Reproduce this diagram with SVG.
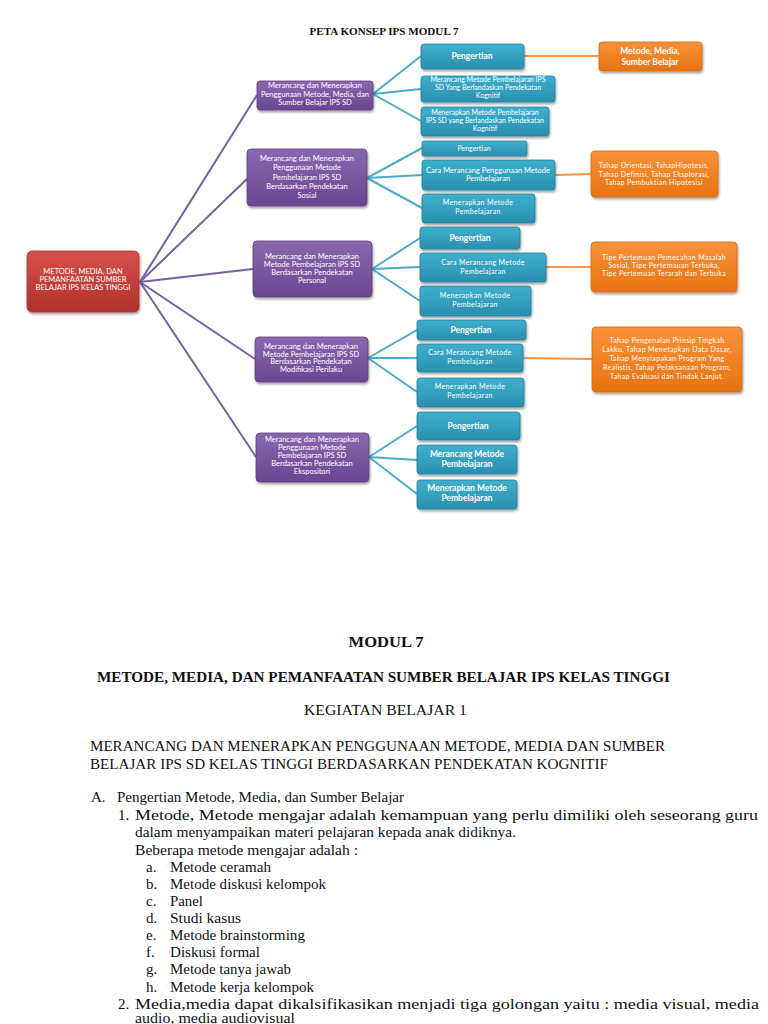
<svg xmlns="http://www.w3.org/2000/svg" width="768" height="1024" viewBox="0 0 768 1024">
<defs>
<linearGradient id="gRed" x1="0" y1="0" x2="0" y2="1"><stop offset="0" stop-color="#d6504b"/><stop offset="1" stop-color="#b0302c"/></linearGradient>
<linearGradient id="gPur" x1="0" y1="0" x2="0" y2="1"><stop offset="0" stop-color="#8a68b0"/><stop offset="1" stop-color="#6a4690"/></linearGradient>
<linearGradient id="gTeal" x1="0" y1="0" x2="0" y2="1"><stop offset="0" stop-color="#3fb0cf"/><stop offset="1" stop-color="#2a8fae"/></linearGradient>
<linearGradient id="gOra" x1="0" y1="0" x2="0" y2="1"><stop offset="0" stop-color="#f9923a"/><stop offset="1" stop-color="#e8730f"/></linearGradient>
<filter id="sh" x="-10%" y="-20%" width="130%" height="150%"><feDropShadow dx="1" dy="2" stdDeviation="1.2" flood-color="#000" flood-opacity="0.35"/></filter>
</defs>
<style>
.red{fill:url(#gRed);stroke:#a8322e;stroke-width:0.8;filter:url(#sh)}
.pur{fill:url(#gPur);stroke:#5e3f82;stroke-width:0.8;filter:url(#sh)}
.teal{fill:url(#gTeal);stroke:#257f9a;stroke-width:0.8;filter:url(#sh)}
.ora{fill:url(#gOra);stroke:#d4680f;stroke-width:0.8;filter:url(#sh)}
.nt{font-family:Lato,"Noto Sans",sans-serif;fill:#fff;text-anchor:middle;font-size:7.5px}
.ns{font-family:Lato,"Noto Sans",sans-serif;fill:#fff;text-anchor:middle;font-size:7px}
.no{font-family:Lato,"Noto Sans",sans-serif;fill:#fff;text-anchor:middle;font-size:7px;letter-spacing:0.35px}
.nb{font-family:Lato,"Noto Sans",sans-serif;fill:#fff;text-anchor:middle;font-size:8.5px;font-weight:bold}
.lp{stroke:#7560a6;stroke-width:2;fill:none}
.lt{stroke:#4aacc6;stroke-width:2;fill:none}
.lo{stroke:#f79646;stroke-width:2;fill:none}
.sf{font-family:"Liberation Serif","Times New Roman",serif;fill:#111;font-size:15px}
.sb{font-family:"Liberation Serif","Times New Roman",serif;fill:#111;font-weight:bold}
</style>
<rect width="768" height="1024" fill="#fff"/>
<text class="sb" x="384" y="35" font-size="11" text-anchor="middle" textLength="149" lengthAdjust="spacingAndGlyphs">PETA KONSEP IPS MODUL 7</text>

<g id="connectors">
<line class="lp" x1="140" y1="282" x2="257" y2="95"/>
<line class="lp" x1="140" y1="282" x2="248" y2="178"/>
<line class="lp" x1="140" y1="282" x2="253" y2="269"/>
<line class="lp" x1="140" y1="282" x2="255" y2="359"/>
<line class="lp" x1="140" y1="282" x2="256" y2="457"/>
<line class="lt" x1="373" y1="94" x2="421" y2="56"/>
<line class="lt" x1="373" y1="94" x2="421" y2="89"/>
<line class="lt" x1="373" y1="94" x2="421" y2="121"/>
<line class="lt" x1="367" y1="178" x2="422" y2="148"/>
<line class="lt" x1="367" y1="178" x2="422" y2="175"/>
<line class="lt" x1="367" y1="178" x2="422" y2="208"/>
<line class="lt" x1="372" y1="269" x2="420" y2="238"/>
<line class="lt" x1="372" y1="269" x2="420" y2="267"/>
<line class="lt" x1="372" y1="269" x2="420" y2="301"/>
<line class="lt" x1="368" y1="358" x2="417" y2="330"/>
<line class="lt" x1="368" y1="358" x2="417" y2="358"/>
<line class="lt" x1="368" y1="358" x2="417" y2="392"/>
<line class="lt" x1="369" y1="457" x2="417" y2="426"/>
<line class="lt" x1="369" y1="457" x2="417" y2="460"/>
<line class="lt" x1="369" y1="457" x2="417" y2="494"/>
<line class="lo" x1="524" y1="56" x2="599" y2="56"/>
<line class="lo" x1="555" y1="175" x2="591" y2="174"/>
<line class="lo" x1="546" y1="267" x2="591" y2="267"/>
<line class="lo" x1="523" y1="358" x2="592" y2="359"/>
</g>

<g id="root">
<rect class="red" x="27" y="251" width="112" height="61" rx="5"/>
<text class="nt" font-size="6.8"><tspan x="83" y="274">METODE, MEDIA, DAN</tspan><tspan x="83" y="282">PEMANFAATAN SUMBER</tspan><tspan x="83" y="290">BELAJAR IPS KELAS TINGGI</tspan></text>
</g>

<g id="p1">
<rect class="pur" x="257" y="81" width="116" height="29" rx="3"/>
<text class="nt"><tspan x="315" y="88">Merancang dan Menerapkan</tspan><tspan x="315" y="96.5">Penggunaan Metode, Media, dan</tspan><tspan x="315" y="105">Sumber Belajar IPS  SD</tspan></text>
</g>
<g id="p2">
<rect class="pur" x="247" y="149" width="120" height="57" rx="4"/>
<text class="nt"><tspan x="307" y="161">Merancang dan Menerapkan</tspan><tspan x="307" y="170">Penggunaan Metode</tspan><tspan x="307" y="180">Pembelajaran IPS SD</tspan><tspan x="307" y="189">Berdasarkan Pendekatan</tspan><tspan x="307" y="198">Sosial</tspan></text>
</g>
<g id="p3">
<rect class="pur" x="253" y="241" width="119" height="56" rx="4"/>
<text class="nt"><tspan x="312" y="259">Merancang dan Menerapkan</tspan><tspan x="312" y="267">Metode Pembelajaran IPS SD</tspan><tspan x="312" y="275">Berdasarkan Pendekatan</tspan><tspan x="312" y="283">Personal</tspan></text>
</g>
<g id="p4">
<rect class="pur" x="255" y="337" width="113" height="45" rx="4"/>
<text class="nt"><tspan x="311" y="349">Merancang dan Menerapkan</tspan><tspan x="311" y="356.5">Metode Pembelajaran IPS SD</tspan><tspan x="311" y="364">Berdasarkan Pendekatan</tspan><tspan x="311" y="371.5">Modifikasi Perilaku</tspan></text>
</g>
<g id="p5">
<rect class="pur" x="256" y="433" width="113" height="49" rx="4"/>
<text class="nt"><tspan x="312" y="442">Merancang dan Menerapkan</tspan><tspan x="312" y="450">Penggunaan Metode</tspan><tspan x="312" y="458">Pembelajaran IPS SD</tspan><tspan x="312" y="466">Berdasarkan Pendekatan</tspan><tspan x="312" y="474">Ekspositori</tspan></text>
</g>

<g id="t1a"><rect class="teal" x="421" y="44" width="103" height="25" rx="3"/><text class="nb" x="472" y="59">Pengertian</text></g>
<g id="t1b"><rect class="teal" x="421" y="76" width="134" height="26" rx="3"/><text class="ns"><tspan x="488" y="82">Merancang Metode Pembelajaran IPS</tspan><tspan x="488" y="90">SD Yang Berlandaskan Pendekatan</tspan><tspan x="488" y="98">Kognitif</tspan></text></g>
<g id="t1c"><rect class="teal" x="421" y="107" width="128" height="29" rx="3"/><text class="ns"><tspan x="485" y="115">Menerapkan Metode Pembelajaran</tspan><tspan x="485" y="123">IPS SD yang Berlandaskan Pendekatan</tspan><tspan x="485" y="131">Kognitif</tspan></text></g>

<g id="t2a"><rect class="teal" x="422" y="141" width="105" height="15" rx="2"/><text class="ns" x="474" y="150.5">Pengertian</text></g>
<g id="t2b"><rect class="teal" x="422" y="160" width="133" height="30" rx="3"/><text class="nt"><tspan x="488" y="173">Cara Merancang Penggunaan Metode</tspan><tspan x="488" y="181">Pembelajaran</tspan></text></g>
<g id="t2c"><rect class="teal" x="422" y="194" width="113" height="29" rx="3"/><text class="no" font-size="7.5"><tspan x="478" y="205">Menerapkan Metode</tspan><tspan x="478" y="214">Pembelajaran</tspan></text></g>

<g id="t3a"><rect class="teal" x="420" y="227" width="100" height="22" rx="3"/><text class="nb" x="470" y="241">Pengertian</text></g>
<g id="t3b"><rect class="teal" x="420" y="253" width="126" height="29" rx="3"/><text class="no" font-size="7.5"><tspan x="483" y="265">Cara Merancang Metode</tspan><tspan x="483" y="274">Pembelajaran</tspan></text></g>
<g id="t3c"><rect class="teal" x="420" y="286" width="111" height="30" rx="3"/><text class="no" font-size="7.5"><tspan x="475" y="298">Menerapkan Metode</tspan><tspan x="475" y="307">Pembelajaran</tspan></text></g>

<g id="t4a"><rect class="teal" x="417" y="320" width="109" height="20" rx="3"/><text class="nb" x="471" y="333">Pengertian</text></g>
<g id="t4b"><rect class="teal" x="417" y="344" width="106" height="28" rx="3"/><text class="no" font-size="7.5"><tspan x="470" y="355">Cara Merancang Metode</tspan><tspan x="470" y="364">Pembelajaran</tspan></text></g>
<g id="t4c"><rect class="teal" x="417" y="378" width="107" height="29" rx="3"/><text class="no" font-size="7.5"><tspan x="470" y="389">Menerapkan Metode</tspan><tspan x="470" y="398">Pembelajaran</tspan></text></g>

<g id="t5a"><rect class="teal" x="417" y="412" width="103" height="28" rx="3"/><text class="nb" x="468" y="429">Pengertian</text></g>
<g id="t5b"><rect class="teal" x="417" y="445" width="100" height="29" rx="3"/><text class="nb"><tspan x="467" y="457">Merancang Metode</tspan><tspan x="467" y="467">Pembelajaran</tspan></text></g>
<g id="t5c"><rect class="teal" x="417" y="480" width="100" height="29" rx="3"/><text class="nb"><tspan x="467" y="491">Menerapkan Metode</tspan><tspan x="467" y="501">Pembelajaran</tspan></text></g>

<g id="o1"><rect class="ora" x="599" y="42" width="103" height="29" rx="3"/><text class="nb" font-size="9"><tspan x="650" y="54">Metode, Media,</tspan><tspan x="650" y="64.5">Sumber Belajar</tspan></text></g>
<g id="o2"><rect class="ora" x="591" y="151" width="127" height="46" rx="4"/><text class="no"><tspan x="654" y="168">Tahap Orientasi, TahapHipotesis,</tspan><tspan x="654" y="176.5">Tahap Definisi, Tahap Eksplorasi,</tspan><tspan x="654" y="185">Tahap Pembuktian Hipotesisi</tspan></text></g>
<g id="o3"><rect class="ora" x="591" y="242" width="146" height="50" rx="4"/><text class="no"><tspan x="664" y="260">Tipe Pertemuan Pemecahan  Masalah</tspan><tspan x="664" y="268">Sosial,  Tipe Pertemauan Terbuka,</tspan><tspan x="664" y="276">Tipe Pertemuan Terarah dan Terbuka</tspan></text></g>
<g id="o4"><rect class="ora" x="592" y="327" width="150" height="65" rx="4"/><text class="no"><tspan x="667" y="343">Tahap Pengenalan Prinsip Tingkah</tspan><tspan x="667" y="352">Lakku, Tahap Menetapkan Data Dasar,</tspan><tspan x="667" y="361">Tahap Menyiapakan Program  Yang</tspan><tspan x="667" y="370">Realistis, Tahap Pelaksanaan Program,</tspan><tspan x="667" y="379">Tahap Evaluasi dan Tindak Lanjut.</tspan></text></g>

<text class="sb" x="386" y="647" font-size="15" text-anchor="middle" textLength="75" lengthAdjust="spacingAndGlyphs">MODUL 7</text>
<text class="sb" x="97" y="682" font-size="14" textLength="573" lengthAdjust="spacingAndGlyphs">METODE, MEDIA, DAN PEMANFAATAN SUMBER BELAJAR IPS KELAS TINGGI</text>
<text class="sf" x="304" y="715" textLength="163" lengthAdjust="spacingAndGlyphs">KEGIATAN BELAJAR 1</text>
<text class="sf" x="90" y="751" textLength="575" lengthAdjust="spacingAndGlyphs">MERANCANG DAN MENERAPKAN PENGGUNAAN METODE, MEDIA DAN SUMBER</text>
<text class="sf" x="90" y="769" textLength="518" lengthAdjust="spacingAndGlyphs">BELAJAR IPS SD KELAS TINGGI BERDASARKAN PENDEKATAN KOGNITIF</text>

<text class="sf" x="91" y="802">A.</text>
<text class="sf" x="117" y="802" textLength="287" lengthAdjust="spacingAndGlyphs">Pengertian Metode, Media, dan Sumber Belajar</text>
<text class="sf" x="118" y="820">1.</text>
<text class="sf" x="135" y="820" textLength="623" lengthAdjust="spacingAndGlyphs">Metode, Metode mengajar adalah kemampuan yang perlu dimiliki oleh seseorang guru</text>
<text class="sf" x="135" y="837" textLength="381" lengthAdjust="spacingAndGlyphs">dalam menyampaikan materi pelajaran kepada anak didiknya.</text>
<text class="sf" x="135" y="855" textLength="223" lengthAdjust="spacingAndGlyphs">Beberapa metode mengajar adalah :</text>
<text class="sf" x="146" y="872">a.</text><text class="sf" x="170" y="872" textLength="101" lengthAdjust="spacingAndGlyphs">Metode ceramah</text>
<text class="sf" x="146" y="889">b.</text><text class="sf" x="170" y="889" textLength="156" lengthAdjust="spacingAndGlyphs">Metode diskusi kelompok</text>
<text class="sf" x="146" y="906">c.</text><text class="sf" x="170" y="906" textLength="33" lengthAdjust="spacingAndGlyphs">Panel</text>
<text class="sf" x="146" y="923">d.</text><text class="sf" x="170" y="923" textLength="71" lengthAdjust="spacingAndGlyphs">Studi kasus</text>
<text class="sf" x="146" y="940">e.</text><text class="sf" x="170" y="940" textLength="135" lengthAdjust="spacingAndGlyphs">Metode brainstorming</text>
<text class="sf" x="146" y="957">f.</text><text class="sf" x="170" y="957" textLength="90" lengthAdjust="spacingAndGlyphs">Diskusi formal</text>
<text class="sf" x="146" y="974">g.</text><text class="sf" x="170" y="974" textLength="121" lengthAdjust="spacingAndGlyphs">Metode tanya jawab</text>
<text class="sf" x="146" y="992">h.</text><text class="sf" x="170" y="992" textLength="144" lengthAdjust="spacingAndGlyphs">Metode kerja kelompok</text>
<text class="sf" x="118" y="1009">2.</text>
<text class="sf" x="135" y="1009" textLength="624" lengthAdjust="spacingAndGlyphs">Media,media dapat dikalsifikasikan menjadi tiga golongan yaitu : media visual, media</text>
<text class="sf" x="135" y="1023" textLength="160" lengthAdjust="spacingAndGlyphs">audio, media audiovisual</text>
</svg>
